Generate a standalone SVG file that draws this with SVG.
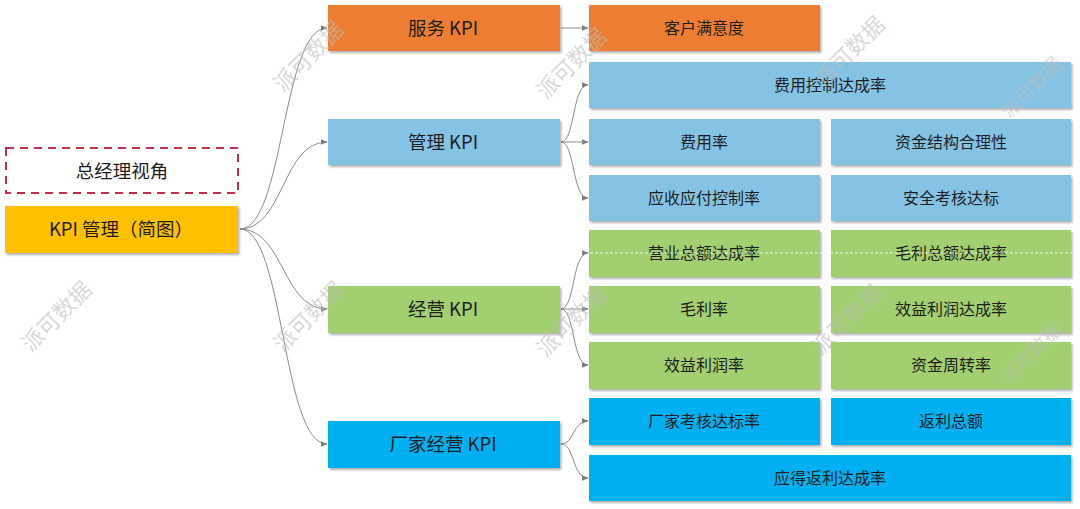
<svg xmlns="http://www.w3.org/2000/svg" width="1080" height="509" viewBox="0 0 1080 509">
<defs>
<filter id="sh" x="-5%" y="-10%" width="110%" height="130%">
<feDropShadow dx="1.5" dy="2" stdDeviation="1" flood-color="#000" flood-opacity="0.3"/>
</filter>
<marker id="ar" viewBox="0 0 10 10" refX="9" refY="5" markerWidth="7" markerHeight="7" orient="auto" markerUnits="userSpaceOnUse">
<path d="M0,1 L10,5 L0,9 Z" fill="#7f7f7f"/>
</marker>
<style>
.t{font-family:"Noto Sans CJK SC","Noto Sans",sans-serif;fill:#1e1e1e;text-anchor:middle;dominant-baseline:central}
.big{font-size:18.5px}
.sm{font-size:16px}
.or{fill:#ed7d31;filter:url(#sh)}
.lb{fill:#85c3e5;filter:url(#sh)}
.gr{fill:#a2cf6f;filter:url(#sh)}
.cy{fill:#00b0f0;filter:url(#sh)}
.go{fill:#ffc000;filter:url(#sh)}
.c{fill:none;stroke:#8c8c8c;stroke-width:1;marker-end:url(#ar)}
.wm{font-family:"Noto Sans CJK SC",sans-serif;font-size:22px;fill:#bdbdbd;fill-opacity:0.6;text-anchor:middle;dominant-baseline:central}
.wms{font-size:19px}
</style>
</defs>
<rect width="1080" height="509" fill="#fff"/>

<g id="connectors">
<path class="c" d="M240,229 C284,229 282,28 327,28"/>
<path class="c" d="M240,229 C284,229 282,142 327,142"/>
<path class="c" d="M240,229 C284,229 282,309 327,309"/>
<path class="c" d="M240,229 C284,229 282,444 327,444"/>
<path class="c" d="M561,28 L588,28"/>
<path class="c" d="M561,142 C575,142 572,85 588,85"/>
<path class="c" d="M561,142 L588,142"/>
<path class="c" d="M561,142 C575,142 572,198 588,198"/>
<path class="c" d="M561,309 C575,309 572,253 588,253"/>
<path class="c" d="M561,309 L588,309"/>
<path class="c" d="M561,309 C575,309 572,365 588,365"/>
<path class="c" d="M561,444 C575,444 572,421 588,421"/>
<path class="c" d="M561,444 C575,444 572,478 588,478"/>
</g>

<g id="n-view"><rect x="6" y="148" width="232" height="45" fill="#fff" stroke="#c0304a" stroke-width="2" stroke-dasharray="8,6"/><text class="t big" x="122" y="170">总经理视角</text></g>
<g id="n-root"><rect class="go" x="5" y="206" width="233" height="47"/><text class="t big" x="121" y="228">KPI 管理（简图）</text></g>

<g id="n-service"><rect class="or" x="328" y="5" width="232" height="46"/><text class="t big" x="443" y="27">服务 KPI</text></g>
<g id="n-manage"><rect class="lb" x="328" y="119" width="232" height="46"/><text class="t big" x="443" y="141">管理 KPI</text></g>
<g id="n-operate"><rect class="gr" x="328" y="286" width="232" height="47"/><text class="t big" x="443" y="308">经营 KPI</text></g>
<g id="n-vendor"><rect class="cy" x="328" y="421" width="232" height="47"/><text class="t big" x="443" y="443">厂家经营 KPI</text></g>

<g id="n-kh"><rect class="or" x="589" y="5" width="231" height="46"/><text class="t sm" x="704" y="27">客户满意度</text></g>
<g id="n-fykz"><rect class="lb" x="589" y="62" width="482" height="46"/><text class="t sm" x="830" y="84">费用控制达成率</text></g>
<g id="n-fyl"><rect class="lb" x="589" y="119" width="231" height="46"/><text class="t sm" x="704" y="141">费用率</text></g>
<g id="n-zjjg"><rect class="lb" x="831" y="119" width="240" height="46"/><text class="t sm" x="951" y="141">资金结构合理性</text></g>
<g id="n-ysyf"><rect class="lb" x="589" y="175" width="231" height="46"/><text class="t sm" x="704" y="197">应收应付控制率</text></g>
<g id="n-aqkh"><rect class="lb" x="831" y="175" width="240" height="46"/><text class="t sm" x="951" y="197">安全考核达标</text></g>
<g id="n-yyze"><rect class="gr" x="589" y="230" width="231" height="47"/><text class="t sm" x="704" y="252">营业总额达成率</text></g>
<g id="n-mlze"><rect class="gr" x="831" y="230" width="240" height="47"/><text class="t sm" x="951" y="252">毛利总额达成率</text></g>
<g id="n-mll"><rect class="gr" x="589" y="286" width="231" height="47"/><text class="t sm" x="704" y="308">毛利率</text></g>
<g id="n-xylrdc"><rect class="gr" x="831" y="286" width="240" height="47"/><text class="t sm" x="951" y="308">效益利润达成率</text></g>
<g id="n-xylrl"><rect class="gr" x="589" y="342" width="231" height="47"/><text class="t sm" x="704" y="364">效益利润率</text></g>
<g id="n-zjzz"><rect class="gr" x="831" y="342" width="240" height="47"/><text class="t sm" x="951" y="364">资金周转率</text></g>
<g id="n-cjkh"><rect class="cy" x="589" y="398" width="231" height="47"/><text class="t sm" x="704" y="420">厂家考核达标率</text></g>
<g id="n-flze"><rect class="cy" x="831" y="398" width="240" height="47"/><text class="t sm" x="951" y="420">返利总额</text></g>
<g id="n-ydfl"><rect class="cy" x="589" y="455" width="482" height="46"/><text class="t sm" x="830" y="477">应得返利达成率</text></g>

<line x1="590" y1="253" x2="1071" y2="253" stroke="#fff" stroke-width="0.8" stroke-dasharray="3,2"/>

<g id="watermarks">
<text class="wm" transform="translate(307,55) rotate(-45)">派可数据</text>
<text class="wm" transform="translate(570,62) rotate(-45)">派可数据</text>
<text class="wm" transform="translate(848,50) rotate(-45)">派可数据</text>
<text class="wm wms" transform="translate(1030,86) rotate(-45)">派可数据</text>
<text class="wm" transform="translate(55,315) rotate(-45)">派可数据</text>
<text class="wm" transform="translate(307,315) rotate(-45)">派可数据</text>
<text class="wm" transform="translate(570,320) rotate(-45)">派可数据</text>
<text class="wm" transform="translate(845,318) rotate(-45)">派可数据</text>
<text class="wm wms" transform="translate(1030,352) rotate(-45)">派可数据</text>
</g>
</svg>
